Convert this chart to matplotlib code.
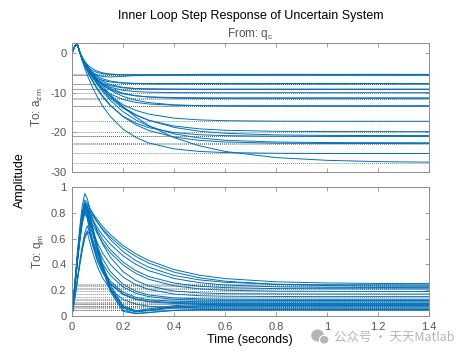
import matplotlib
matplotlib.use('Agg')
import matplotlib.pyplot as plt
from matplotlib.patches import Ellipse

plt.rcParams['font.family'] = ['Liberation Sans', 'DejaVu Sans']
plt.rcParams['mathtext.fontset'] = 'custom'
plt.rcParams['mathtext.rm'] = 'Liberation Sans'
plt.rcParams['mathtext.it'] = 'Liberation Sans'
plt.rcParams['axes.unicode_minus'] = False

# sample times (s), shared by every response
time = [0, 0.01, 0.02, 0.03, 0.04, 0.05, 0.06, 0.07, 0.08, 0.10, 0.12, 0.15,
        0.20, 0.25, 0.30, 0.40, 0.50, 0.60, 0.80, 1.00, 1.20, 1.40]

# a_zm responses, one row per uncertain sample
azm_responses = [
    [0, 1.6, 2.40, 0.2, -1.80, -3.00, -3.80, -4.40, -4.90, -5.60, -5.95, -6.05, -5.90, -5.70, -5.55, -5.45, -5.4, -5.4, -5.4, -5.4, -5.4, -5.4],
    [0, 1.6, 2.35, 0.2, -1.56, -2.68, -3.48, -4.05, -4.46, -4.97, -5.23, -5.40, -5.48, -5.5, -5.5, -5.5, -5.5, -5.5, -5.5, -5.5, -5.5, -5.5],
    [0, 1.6, 2.30, 0.3, -1.24, -2.20, -2.96, -3.54, -3.99, -4.63, -5.01, -5.32, -5.52, -5.58, -5.59, -5.6, -5.6, -5.6, -5.6, -5.6, -5.6, -5.6],
    [0, 1.6, 2.35, 0.2, -1.70, -3.03, -4.07, -4.87, -5.49, -6.36, -6.89, -7.32, -7.59, -7.67, -7.69, -7.7, -7.7, -7.7, -7.7, -7.7, -7.7, -7.7],
    [0, 1.6, 2.30, 0.2, -1.41, -2.57, -3.52, -4.30, -4.93, -5.87, -6.51, -7.09, -7.54, -7.71, -7.76, -7.79, -7.8, -7.8, -7.8, -7.8, -7.8, -7.8],
    [0, 1.6, 2.40, 0.2, -1.65, -3.00, -4.10, -5.01, -5.75, -6.85, -7.60, -8.27, -8.80, -8.99, -9.05, -9.09, -9.1, -9.1, -9.1, -9.1, -9.1, -9.1],
    [0, 1.6, 2.30, 0.2, -1.42, -2.60, -3.62, -4.48, -5.20, -6.34, -7.15, -7.96, -8.66, -8.96, -9.10, -9.18, -9.2, -9.2, -9.2, -9.2, -9.2, -9.2],
    [0, 1.6, 2.35, 0.2, -1.54, -2.83, -3.93, -4.87, -5.65, -6.89, -7.77, -8.65, -9.41, -9.74, -9.89, -9.98, -10.0, -10.0, -10.0, -10.0, -10.0, -10.0],
    [0, 1.6, 2.35, 0.2, -1.50, -2.81, -3.94, -4.92, -5.76, -7.14, -8.18, -9.27, -10.31, -10.81, -11.06, -11.24, -11.29, -11.3, -11.3, -11.3, -11.3, -11.3],
    [0, 1.6, 2.30, 0.2, -1.36, -2.54, -3.60, -4.52, -5.35, -6.70, -7.76, -8.94, -10.13, -10.76, -11.11, -11.39, -11.47, -11.5, -11.5, -11.5, -11.5, -11.5],
    [0, 1.6, 2.40, 0.2, -1.57, -2.94, -4.16, -5.23, -6.18, -7.75, -8.98, -10.33, -11.72, -12.45, -12.85, -13.17, -13.26, -13.3, -13.3, -13.3, -13.3, -13.3],
    [0, 1.6, 2.30, 0.2, -1.27, -2.43, -3.47, -4.42, -5.27, -6.74, -7.95, -9.37, -10.95, -11.91, -12.50, -13.07, -13.28, -13.36, -13.4, -13.4, -13.4, -13.4],
    [0, 1.6, 2.35, 0.2, -1.38, -2.65, -3.80, -4.87, -5.87, -7.60, -9.08, -10.87, -13.04, -14.45, -15.39, -16.41, -16.86, -17.05, -17.17, -17.2, -17.2, -17.2],
    [0, 1.6, 2.30, 0.2, -1.37, -2.63, -3.82, -4.93, -5.94, -7.78, -9.39, -11.40, -13.92, -15.68, -16.93, -18.39, -19.11, -19.46, -19.72, -19.78, -19.8, -19.8],
    [0, 1.6, 2.40, 0.2, -1.68, -3.23, -4.64, -5.94, -7.16, -9.28, -11.09, -13.27, -15.92, -17.64, -18.80, -20.03, -20.58, -20.81, -20.96, -21.0, -21.0, -21.0],
    [0, 1.6, 2.30, 0.2, -1.38, -2.67, -3.86, -4.99, -6.06, -8.00, -9.72, -11.93, -14.78, -16.88, -18.42, -20.36, -21.40, -21.97, -22.42, -22.55, -22.58, -22.6],
    [0, 1.6, 2.35, 0.2, -1.57, -3.03, -4.40, -5.68, -6.84, -8.96, -10.81, -13.13, -16.03, -18.06, -19.49, -21.18, -22.00, -22.41, -22.71, -22.78, -22.8, -22.8],
    [0, 1.6, 2.45, 0.1, -2.02, -3.90, -5.59, -7.16, -8.63, -11.18, -13.36, -15.99, -19.18, -21.25, -22.64, -24.14, -24.79, -25.07, -25.25, -25.3, -25.3, -25.3],
    [0, 1.6, 2.30, 0.3, -1.08, -2.13, -3.12, -4.08, -5.00, -6.73, -8.34, -10.52, -13.61, -16.15, -18.22, -21.31, -23.38, -24.78, -26.33, -27.02, -27.35, -27.49],
    [0, 1.6, 2.35, 0.2, -1.27, -2.45, -3.56, -4.60, -5.57, -7.36, -8.94, -10.98, -13.60, -15.54, -16.95, -18.74, -19.70, -20.22, -20.63, -20.76, -20.78, -20.8],
]
azm_final = [-5.4, -5.5, -5.6, -7.7, -7.8, -9.1, -9.2, -10.0, -11.3, -11.5,
             -13.3, -13.4, -17.2, -19.8, -21.0, -22.6, -22.8, -25.3, -27.6, -20.8]

# q_m responses
qm_responses = [
    [0, .22, .44, .63, .79, .88, .865, .83, .80, .745, .695, .632, .547, .482, .431, .360, .316, .290, .265, .256, .252, .251],
    [0, .215, .43, .62, .774, .86, .845, .81, .78, .725, .675, .612, .527, .462, .411, .340, .296, .270, .245, .236, .232, .231],
    [0, .225, .45, .648, .81, .90, .88, .835, .795, .725, .666, .593, .499, .429, .379, .314, .280, .261, .246, .242, .241, .24],
    [0, .2125, .425, .612, .765, .85, .83, .79, .75, .683, .627, .557, .467, .401, .352, .291, .258, .240, .226, .222, .221, .22],
    [0, .2175, .435, .626, .783, .87, .845, .79, .742, .662, .595, .516, .418, .352, .306, .255, .230, .220, .212, .211, .21, .21],
    [0, .21, .42, .605, .756, .84, .815, .76, .714, .636, .570, .491, .395, .330, .285, .234, .210, .200, .192, .191, .19, .19],
    [0, .2375, .475, .684, .855, .95, .91, .83, .76, .645, .558, .457, .344, .275, .234, .193, .179, .173, .171, .17, .17, .17],
    [0, .2075, .415, .598, .747, .83, .795, .725, .665, .565, .488, .400, .302, .242, .206, .170, .157, .153, .151, .15, .15, .15],
    [0, .22, .44, .634, .792, .88, .83, .73, .655, .533, .443, .345, .245, .192, .163, .140, .133, .131, .13, .13, .13, .13],
    [0, .20, .40, .576, .72, .80, .755, .665, .595, .486, .404, .315, .224, .176, .150, .129, .123, .121, .12, .12, .12, .12],
    [0, .215, .43, .619, .774, .86, .80, .68, .59, .459, .366, .271, .184, .145, .126, .114, .111, .11, .11, .11, .11, .11],
    [0, .205, .41, .590, .738, .82, .765, .645, .56, .435, .346, .255, .171, .133, .115, .104, .101, .10, .10, .10, .10, .10],
    [0, .14, .28, .42, .546, .644, .70, .64, .55, .422, .335, .246, .165, .128, .110, .097, .095, .095, .095, .095, .095, .095],
    [0, .21, .42, .605, .756, .84, .81, .75, .68, .53, .39, .22, .07, .04, .055, .08, .088, .09, .09, .09, .09, .09],
    [0, .20, .40, .576, .72, .80, .77, .71, .64, .50, .37, .21, .06, .03, .045, .07, .078, .08, .08, .08, .08, .08],
    [0, .2125, .425, .612, .765, .85, .82, .76, .69, .54, .40, .24, .08, .04, .045, .07, .078, .08, .08, .08, .08, .08],
    [0, .13, .26, .40, .52, .62, .66, .63, .58, .46, .35, .21, .07, .035, .04, .062, .068, .07, .07, .07, .07, .07],
    [0, .13, .26, .39, .51, .60, .65, .57, .50, .38, .294, .208, .128, .092, .075, .063, .06, .06, .06, .06, .06, .06],
    [0, .22, .44, .634, .792, .88, .85, .78, .70, .53, .37, .19, .035, .018, .025, .045, .05, .05, .05, .05, .05, .05],
    [0, .205, .41, .59, .738, .82, .79, .73, .66, .51, .37, .20, .045, .02, .028, .042, .045, .045, .045, .045, .045, .045],
]
qm_final = [.251, .231, .24, .22, .21, .19, .17, .15, .13, .12,
            .11, .10, .095, .09, .08, .08, .07, .06, .05, .045]

x_ticks = [0, 0.2, 0.4, 0.6, 0.8, 1.0, 1.2, 1.4]
x_labels = ['0', '0.2', '0.4', '0.6', '0.8', '1', '1.2', '1.4']
azm_ticks = [-30, -20, -10, 0]
qm_ticks = [0, 0.2, 0.4, 0.6, 0.8, 1]
qm_labels = ['0', '0.2', '0.4', '0.6', '0.8', '1']

line_color = '#0072BD'
axis_gray = '#8c8c8c'
text_gray = '#555555'
mark_gray = '#b5b5b5'

fig = plt.figure(figsize=(4.74, 3.55), dpi=100)
ax1 = fig.add_axes([0.152, 0.515, 0.753, 0.364])
ax2 = fig.add_axes([0.152, 0.110, 0.753, 0.363])

for ax, responses, finals in [(ax1, azm_responses, azm_final), (ax2, qm_responses, qm_final)]:
    for f in finals:
        ax.plot([time[0], time[-1]], [f, f], ':', color='#444444', lw=0.55, zorder=1)
    for r in responses:
        ax.plot(time, r, color=line_color, lw=0.7, zorder=2)
    ax.set_xlim(0, 1.4)
    ax.set_xticks(x_ticks)
    ax.tick_params(direction='in', top=True, right=True, length=3, width=0.6,
                   color=axis_gray, labelcolor=text_gray, labelsize=8, pad=4)
    for s in ax.spines.values():
        s.set_color(axis_gray)
        s.set_linewidth(0.7)

ax1.set_ylim(-30, 2.5)
ax1.set_yticks(azm_ticks)
ax1.set_yticklabels([str(v) for v in azm_ticks])
ax1.set_xticklabels([])

ax2.set_ylim(0, 1)
ax2.set_yticks(qm_ticks)
ax2.set_yticklabels(qm_labels)
ax2.set_xticklabels(x_labels)

fig.text(0.528, 0.955, 'Inner Loop Step Response of Uncertain System',
         ha='center', va='center', fontsize=9, color='black')
fig.text(0.528, 0.905, r'From: $\mathregular{q_c}$', ha='center', va='center',
         fontsize=8.5, color=text_gray)
fig.text(0.080, 0.697, r'To: $\mathregular{a_{zm}}$', ha='center', va='center',
         rotation=90, fontsize=8.5, color=text_gray)
fig.text(0.080, 0.292, r'To: $\mathregular{q_m}$', ha='center', va='center',
         rotation=90, fontsize=8.5, color=text_gray)
fig.text(0.042, 0.493, 'Amplitude', ha='center', va='center', rotation=90,
         fontsize=9, color='black')
fig.text(0.528, 0.042, 'Time (seconds)', ha='center', va='center',
         fontsize=9, color='black')

# watermark: small chat-bubble icon + text
fig.patches.append(Ellipse((0.670, 0.055), 0.024, 0.030, transform=fig.transFigure,
                           color=mark_gray, zorder=5))
fig.patches.append(Ellipse((0.684, 0.043), 0.020, 0.025, transform=fig.transFigure,
                           facecolor=mark_gray, edgecolor='white', lw=0.8, zorder=6))
fig.text(0.705, 0.050, '公众号 · 天天Matlab', ha='left', va='center', fontsize=9,
         color=mark_gray, family=['Noto Sans CJK SC', 'DejaVu Sans'])

fig.savefig('out.png', dpi=100)
